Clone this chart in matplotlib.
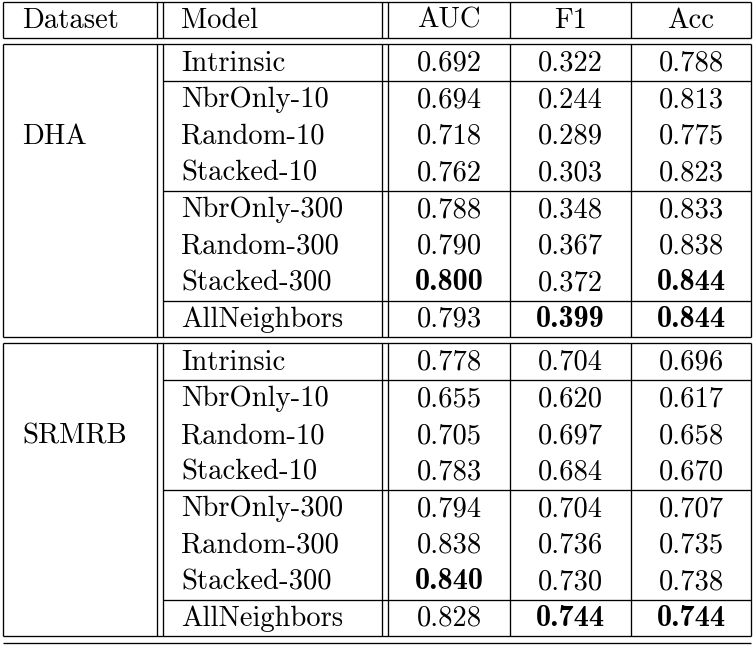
import matplotlib
matplotlib.use("Agg")
import matplotlib.pyplot as plt

# table content
columns = ["Dataset", "Model", "AUC", "F1", "Acc"]
datasets = ["DHA", "SRMRB"]
models = ["Intrinsic", "NbrOnly-10", "Random-10", "Stacked-10",
          "NbrOnly-300", "Random-300", "Stacked-300", "AllNeighbors"]

auc_dha = [0.692, 0.694, 0.718, 0.762, 0.788, 0.790, 0.800, 0.793]
f1_dha = [0.322, 0.244, 0.289, 0.303, 0.348, 0.367, 0.372, 0.399]
acc_dha = [0.788, 0.813, 0.775, 0.823, 0.833, 0.838, 0.844, 0.844]

auc_srmrb = [0.778, 0.655, 0.705, 0.783, 0.794, 0.838, 0.840, 0.828]
f1_srmrb = [0.704, 0.620, 0.697, 0.684, 0.704, 0.736, 0.730, 0.744]
acc_srmrb = [0.696, 0.617, 0.658, 0.670, 0.707, 0.735, 0.738, 0.744]

blocks = [(auc_dha, f1_dha, acc_dha), (auc_srmrb, f1_srmrb, acc_srmrb)]

# layout in pixels (figure is 756 x 648)
W, H = 756, 648
x_left, x_right = 3, 751
x_ds = (156.5, 162.5)      # double rule after Dataset
x_md = (382, 388)          # double rule after Model
x_num = [388, 510, 631, 751]
y_top = 1.5
h_head = 36.5
h_row = 36.6
gap = 6.3
descent = 10.2
pad = 19
cline_after = [0, 3, 6]    # partial rules below these rows
label_row = 2              # row where the dataset name sits

fig = plt.figure(figsize=(W / 100, H / 100), dpi=100)
ax = fig.add_axes([0, 0, 1, 1])
ax.set_xlim(0, W)
ax.set_ylim(H, 0)
ax.axis("off")

lw = 0.95
reg = dict(family="cmr10", fontsize=20.6, va="baseline", color="black")
bold = dict(family="cmb10", fontsize=21.8, va="baseline", color="black")

vx = [x_left, x_ds[0], x_ds[1], x_md[0], x_md[1]] + x_num[1:]


def vrules(y0, y1):
    ax.vlines(vx, y0, y1, colors="black", lw=lw)


# header
y_head_bot = y_top + h_head
ax.hlines([y_top, y_head_bot], x_left, x_right, colors="black", lw=lw)
vrules(y_top, y_head_bot)
base = y_head_bot - descent
ax.text(x_left + pad, base, columns[0], ha="left", **reg)
ax.text(x_ds[1] + pad, base, columns[1], ha="left", **reg)
for j, name in enumerate(columns[2:]):
    ax.text((x_num[j] + x_num[j + 1]) / 2, base, name, ha="center", **reg)

y = y_head_bot + gap
for name, vals in zip(datasets, blocks):
    n = len(models)
    y_end = y + n * h_row
    ax.hlines([y, y_end], x_left, x_right, colors="black", lw=lw)
    vrules(y, y_end)
    best = [max(v) for v in vals]
    for i, model in enumerate(models):
        rb = y + (i + 1) * h_row
        if i in cline_after:
            ax.hlines(rb, x_ds[1], x_right, colors="black", lw=lw)
        base = rb - descent
        if i == label_row:
            ax.text(x_left + pad, base, name, ha="left", **reg)
        ax.text(x_ds[1] + pad, base, model, ha="left", **reg)
        for j, v in enumerate(vals):
            style = bold if v[i] == best[j] else reg
            ax.text((x_num[j] + x_num[j + 1]) / 2, base, f"{v[i]:.3f}",
                    ha="center", **style)
    y = y_end + gap

# closing double rule
ax.hlines(y, x_left, x_right, colors="black", lw=lw)

fig.savefig("out.png", dpi=100, facecolor="white")
